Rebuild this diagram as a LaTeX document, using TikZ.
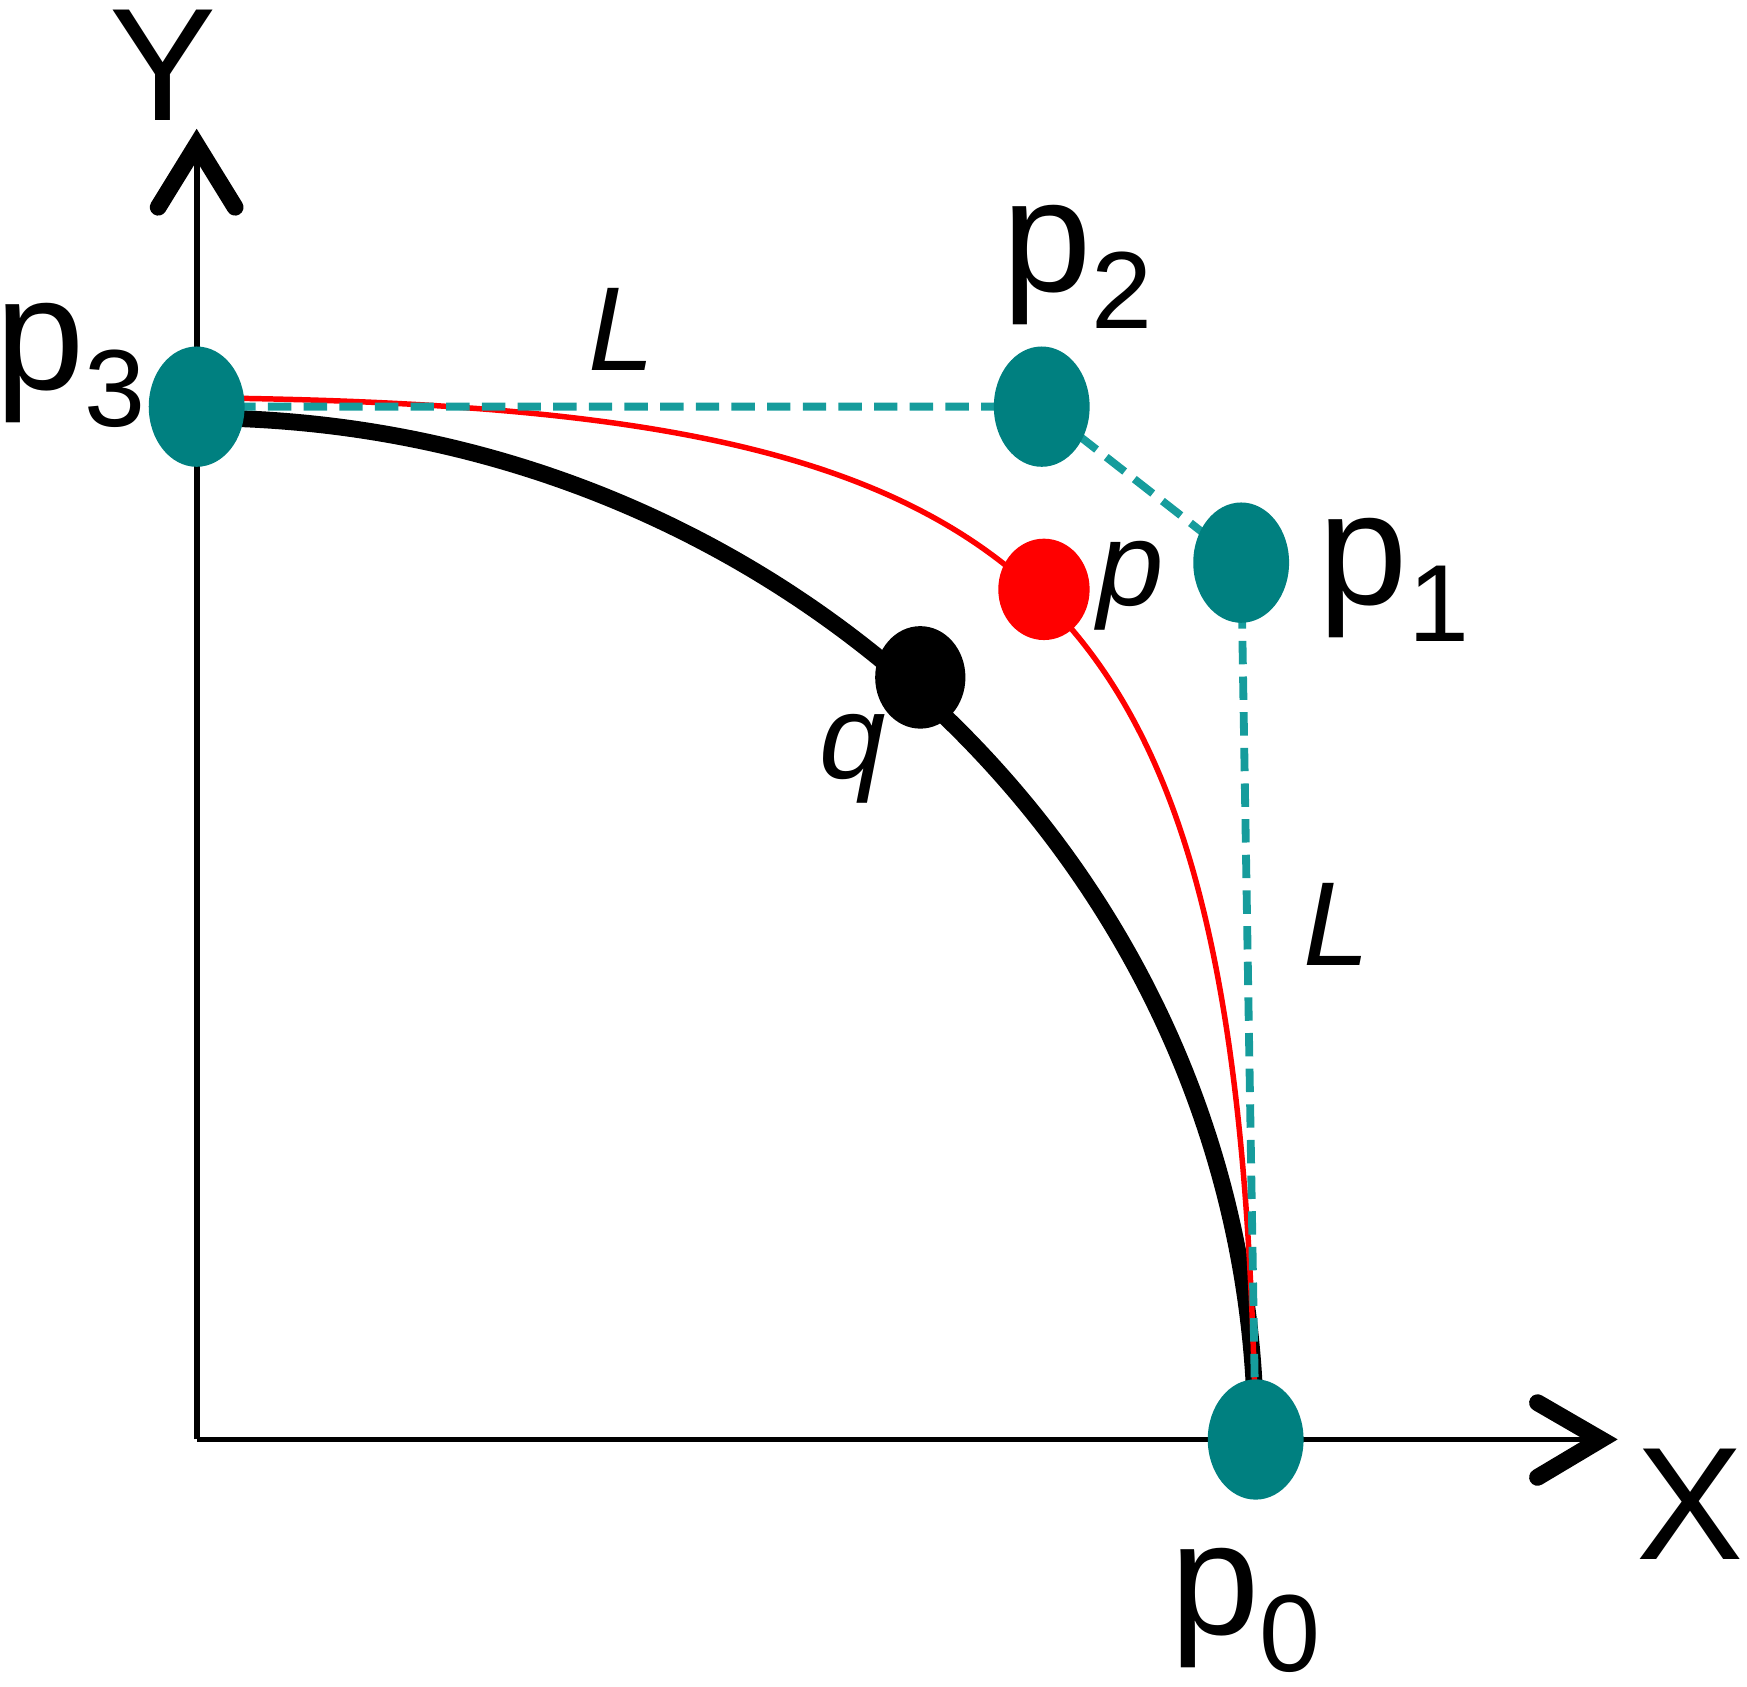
\documentclass[tikz,border=0pt]{standalone}
\usepackage{fontspec}
\setmainfont{Liberation Sans}
\usetikzlibrary{shapes.geometric}

\definecolor{ptteal}{RGB}{0,128,128}
\definecolor{dashteal}{RGB}{22,156,156}

\newcommand{\bigtxt}{\fontsize{41}{47}\selectfont}
\newcommand{\subtxt}{\fontsize{28}{32}\selectfont}
\newcommand{\pname}[1]{\bigtxt p\raisebox{-9.4pt}{\subtxt #1}}

\begin{document}
\begin{tikzpicture}[x=0.1mm, y=0.1mm,
        axis/.style={line width=1.5pt},
        barb/.style={line width=4.3pt, line cap=round, line join=miter},
        ctrl/.style={ellipse, inner sep=0pt, minimum width=8.6mm, minimum height=10.8mm},
        dot/.style={ellipse, inner sep=0pt},
        lbl/.style={inner sep=0pt, anchor=base west},
        itlbl/.style={inner sep=0pt, font=\fontsize{30.5}{34}\selectfont\itshape}]
        \useasboundingbox (0,0) rectangle (1568,1514);
        % Axes.
        \coordinate (O) at (176.5,222);
        \coordinate (ytip) at (176.5,1384);
        \coordinate (xtip) at (1437,222);
        \draw[axis] (O) -- (ytip);
        \draw[axis] (O) -- (xtip);
        \draw[barb] ([shift={(-34.5,-56)}]ytip) -- (ytip) -- ([shift={(34.5,-56)}]ytip);
        \draw[barb] ([shift={(-57,33)}]xtip) -- (xtip) -- ([shift={(-57,-34)}]xtip);
        \node[inner sep=0pt, font=\bigtxt] (ylab) at (146,1455) {Y};
        \node[inner sep=0pt, font=\bigtxt] (xlab) at (1517,164) {X};

        % Control points (filled further down).
        \node[ctrl] (p3) at (176.5,1149) {};
        \node[ctrl] (p2) at (935,1149) {};
        \node[ctrl] (p1) at (1114,1009) {};
        \node[ctrl] (p0) at (1127,222) {};
        \coordinate (arctop) at (176.5,1139);
        \coordinate (redstart) at (176.5,1157);

        % Quarter ellipse, Bezier curve and control polygon.
        \draw[line width=4.3pt] (arctop) arc[start angle=90, end angle=0, x radius=95.05mm, y radius=91.7mm];
        \draw[red, line width=1.4pt] (redstart) .. controls (p2.center) and (p1.center) .. (p0.center);
        \draw[dashteal, line width=2pt, dash pattern=on 2.1mm off 1.1mm]
            (p3.center) -- (p2.center) -- (p1.center) -- (p0.center);

        % Points on top of the lines.
        \foreach \n in {p3,p2,p1,p0}
            \fill[ptteal] (\n) ellipse[x radius=4.3mm, y radius=5.4mm];
        \node[dot, fill=red, minimum width=8.2mm, minimum height=9.1mm] (p) at (937,985) {};
        \node[dot, fill=black, minimum width=8.1mm, minimum height=9.2mm] (q) at (826,906) {};

        % Labels.
        \node[lbl] (p3lab) at (-5,1164) {\pname{3}};
        \node[lbl] (p2lab) at (899,1252) {\pname{2}};
        \node[lbl] (p1lab) at (1183,971) {\pname{1}};
        \node[lbl] (p0lab) at (1050,47) {\pname{0}};
        \node[itlbl] (ltop) at (558,1218) {L};
        \node[itlbl] (lright) at (1200,684) {L};
        \node[itlbl] (plab) at (1015,988) {p};
        \node[itlbl] (qlab) at (765,833) {q};
    \end{tikzpicture}
\end{document}
